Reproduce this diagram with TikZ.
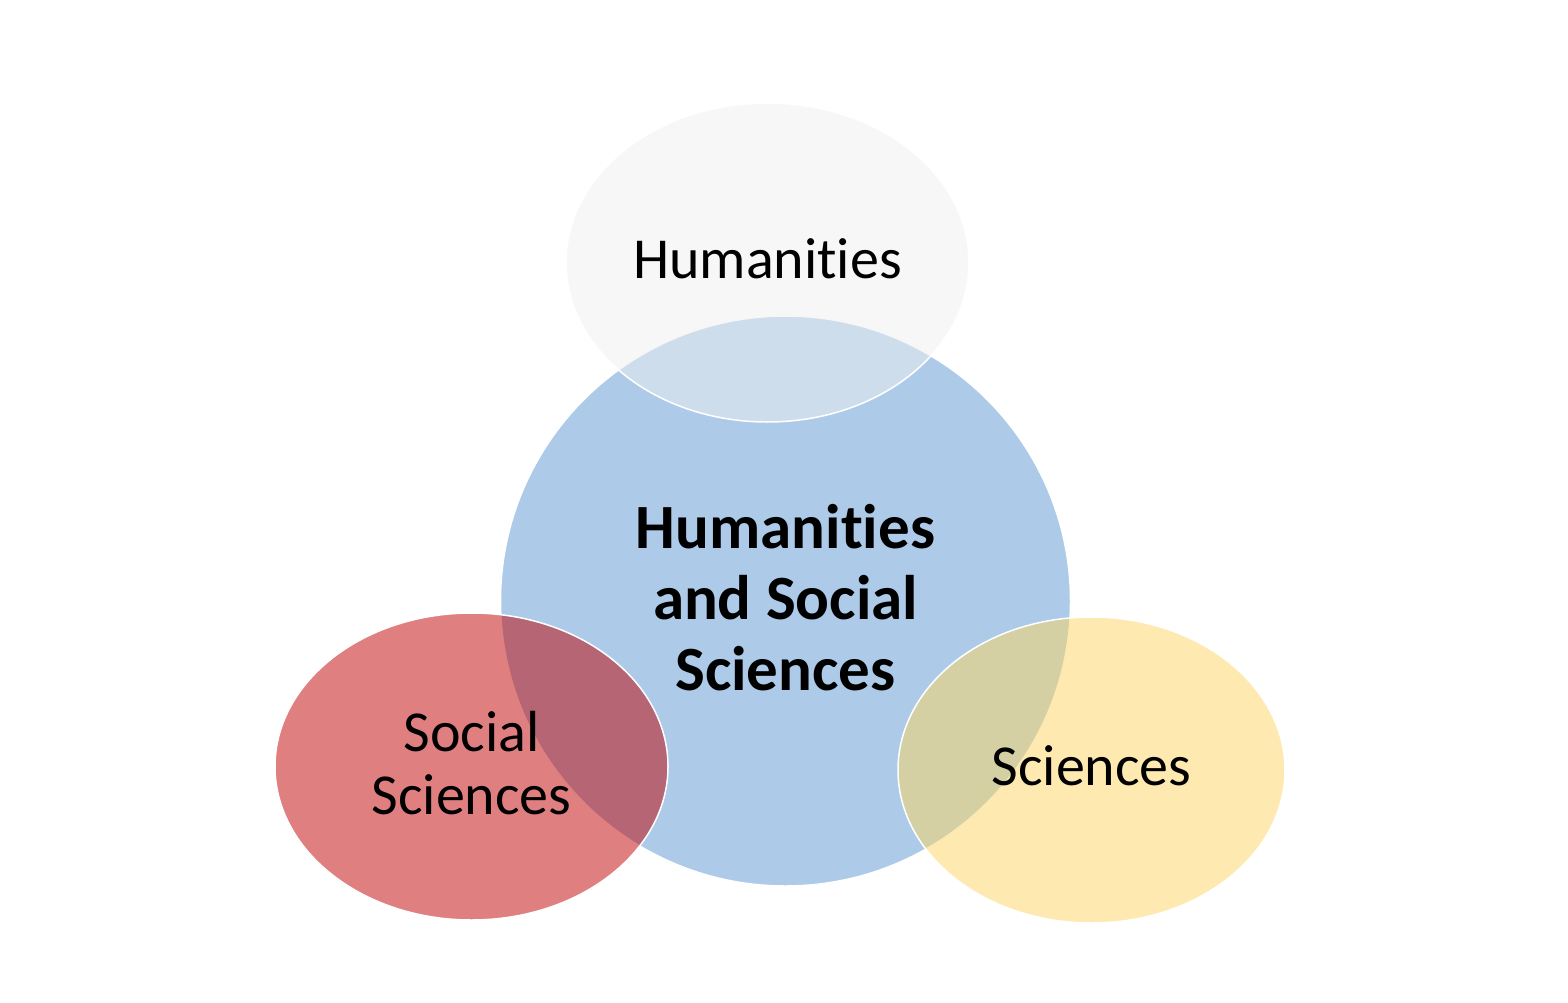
\documentclass[tikz,border=0pt]{standalone}
\usepackage{fontspec}
\setmainfont[Ligatures=NoCommon]{Carlito}
\usetikzlibrary{shapes.geometric}
\definecolor{hssblue}{RGB}{173,203,233}
\definecolor{humgray}{RGB}{239,239,239}
\definecolor{socred}{RGB}{192,0,0}
\definecolor{sciyellow}{RGB}{253,211,97}

\begin{document}
\begin{tikzpicture}[x=1pt, y=-1pt,
        every node/.style={inner sep=0pt, align=center, text depth=8pt},
        core/.style={circle, draw=white, line width=1.5pt, fill=hssblue,
            font=\fontsize{63}{71}\selectfont\bfseries},
        field/.style={ellipse, draw=white, line width=1.5pt, fill opacity=0.5,
            text opacity=1, font=\fontsize{58}{63}\selectfont}
    ]
    \useasboundingbox (0,0) rectangle (1568,1003);

    % Centre
    \node[core, minimum size=570pt] (hss) at (785.5,601) {Humanities\\and Social\\Sciences};

    % Fields
    \node[field, fill=humgray, minimum width=403pt, minimum height=319pt] (hum) at (767.5,262.5) {Humanities};
    \node[field, fill=socred, minimum width=393pt, minimum height=307pt] (soc) at (471.5,766.5) {Social\\Sciences};
    \node[field, fill=sciyellow, minimum width=387pt, minimum height=306pt] (sci) at (1091.5,770) {Sciences};

\end{tikzpicture}
\end{document}
